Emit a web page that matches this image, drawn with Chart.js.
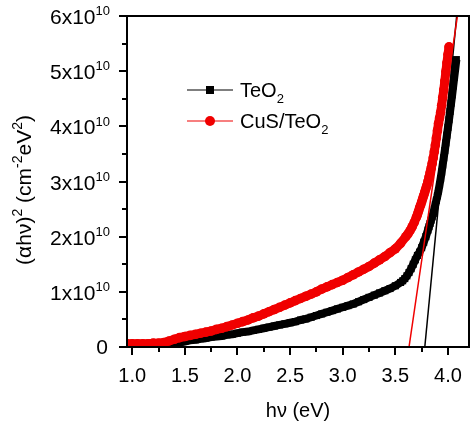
<!DOCTYPE html>
<html>
<head>
<meta charset="utf-8">
<script src="https://cdn.jsdelivr.net/npm/chart.js@4.4.1/dist/chart.umd.min.js"></script>
<style>
  body { margin: 0; background: #fff; }
  canvas { display: block; }
</style>
</head>
<body>
<canvas id="tauc" width="474" height="424"></canvas>
<script>
// values are (alpha h nu)^2 in units of 1e10 cm^-2 eV^2
var teo2Energy = [0.95,1.00,1.05,1.10,1.15,1.20,1.25,1.30,1.35,1.40,1.45,1.50,1.55,1.60,1.65,1.70,1.75,1.80,1.85,1.90,1.95,2.00,2.05,2.10,2.15,2.20,2.25,2.30,2.35,2.40,2.45,2.50,2.55,2.60,2.65,2.70,2.75,2.80,2.85,2.90,2.95,3.00,3.05,3.10,3.15,3.20,3.25,3.30,3.35,3.40,3.45,3.50,3.55,3.57,3.59,3.61,3.63,3.65,3.67,3.69,3.71,3.73,3.75,3.77,3.79,3.81,3.82,3.83,3.84,3.85,3.86,3.87,3.88,3.89,3.90,3.91,3.92,3.93,3.94,3.95,3.96,3.97,3.98,3.99,4.00,4.01,4.02,4.03,4.04,4.05,4.06,4.07,4.08];
var teo2Values = [0.03,0.03,0.03,0.03,0.03,0.03,0.03,0.03,0.04,0.06,0.08,0.10,0.12,0.13,0.15,0.16,0.18,0.19,0.20,0.22,0.23,0.25,0.27,0.28,0.30,0.32,0.34,0.36,0.38,0.40,0.42,0.44,0.46,0.49,0.51,0.54,0.57,0.60,0.63,0.66,0.69,0.72,0.75,0.78,0.82,0.86,0.90,0.94,0.98,1.02,1.06,1.11,1.17,1.20,1.24,1.29,1.35,1.42,1.50,1.58,1.66,1.72,1.80,1.90,2.00,2.12,2.18,2.24,2.30,2.36,2.42,2.50,2.58,2.66,2.74,2.83,2.94,3.05,3.17,3.30,3.43,3.56,3.70,3.84,3.98,4.12,4.27,4.42,4.57,4.73,4.89,5.05,5.21];

var cusEnergy = [0.95,1.00,1.05,1.10,1.15,1.20,1.25,1.30,1.35,1.40,1.45,1.50,1.55,1.60,1.65,1.70,1.75,1.80,1.85,1.90,1.95,2.00,2.05,2.10,2.15,2.20,2.25,2.30,2.35,2.40,2.45,2.50,2.55,2.60,2.65,2.70,2.75,2.80,2.85,2.90,2.95,3.00,3.05,3.10,3.15,3.20,3.25,3.30,3.35,3.40,3.45,3.50,3.55,3.60,3.62,3.64,3.66,3.68,3.70,3.71,3.72,3.73,3.74,3.75,3.76,3.77,3.78,3.79,3.80,3.81,3.82,3.83,3.84,3.85,3.86,3.87,3.88,3.89,3.90,3.91,3.92,3.93,3.94,3.95,3.96,3.97,3.98,3.99,4.00,4.01];
var cusValues = [0.06,0.06,0.06,0.06,0.06,0.07,0.07,0.08,0.11,0.14,0.17,0.19,0.21,0.23,0.25,0.27,0.29,0.32,0.34,0.37,0.40,0.43,0.46,0.49,0.53,0.56,0.60,0.64,0.68,0.72,0.76,0.80,0.84,0.88,0.92,0.96,1.00,1.05,1.09,1.13,1.17,1.21,1.26,1.31,1.36,1.41,1.46,1.52,1.58,1.64,1.71,1.78,1.88,2.00,2.05,2.11,2.18,2.26,2.35,2.40,2.46,2.52,2.57,2.63,2.69,2.75,2.81,2.87,2.93,3.00,3.08,3.16,3.24,3.33,3.43,3.54,3.66,3.79,3.92,4.05,4.15,4.25,4.38,4.52,4.66,4.82,4.99,5.15,5.30,5.44];

// linear fits (band gap extrapolation)
var teo2FitEnergy = [3.78, 4.083];
var teo2FitValues = [0, 6];
var cusFitEnergy = [3.63, 4.09];
var cusFitValues = [0, 6];

var xTicks = [1.0, 1.5, 2.0, 2.5, 3.0, 3.5, 4.0];
var xTickLabels = ["1.0", "1.5", "2.0", "2.5", "3.0", "3.5", "4.0"];
var yTicks = [0, 1, 2, 3, 4, 5, 6];
var yTickLabels = ["0", "1x10", "2x10", "3x10", "4x10", "5x10", "6x10"];

var RED = '#f00000';

function pts(xs, ys){
  var out = [];
  for (var i = 0; i < xs.length; i++) out.push({x: xs[i], y: ys[i]});
  return out;
}

var FONT = "'Liberation Sans', Arial, sans-serif";

// parts: [text, kind] where kind is 'n', 'sup' or 'sub'
function richWidth(ctx, parts, big, small){
  var w = 0;
  parts.forEach(function(p){
    ctx.font = (p[1] === 'n' ? big : small) + "px " + FONT;
    w += ctx.measureText(p[0]).width;
  });
  return w;
}
function richText(ctx, parts, x, y, align, big, small){
  var w = richWidth(ctx, parts, big, small);
  var cx = align === 'right' ? x - w : (align === 'center' ? x - w / 2 : x);
  ctx.textAlign = 'left';
  ctx.textBaseline = 'alphabetic';
  parts.forEach(function(p){
    var dy = 0;
    if (p[1] === 'sup') dy = -big * 0.42;
    if (p[1] === 'sub') dy = big * 0.3;
    ctx.font = (p[1] === 'n' ? big : small) + "px " + FONT;
    ctx.fillText(p[0], cx, y + dy);
    cx += ctx.measureText(p[0]).width;
  });
}

var decor = {
  id: 'decor',
  afterDraw: function(chart){
    var ctx = chart.ctx, a = chart.chartArea;
    var xs = chart.scales.x, ys = chart.scales.y;
    ctx.save();
    ctx.fillStyle = '#000';
    ctx.strokeStyle = '#000';

    // frame
    ctx.lineWidth = 2;
    ctx.strokeRect(a.left, a.top, a.right - a.left, a.bottom - a.top);

    // x ticks
    for (var v = 1.0; v <= 4.2001; v += 0.25){
      var px = Math.round(xs.getPixelForValue(v));
      var major = Math.abs(v * 2 - Math.round(v * 2)) < 1e-6;
      ctx.beginPath();
      ctx.moveTo(px, a.bottom);
      ctx.lineTo(px, a.bottom + (major ? 8 : 5));
      ctx.stroke();
    }
    xTicks.forEach(function(t, i){
      richText(ctx, [[xTickLabels[i], 'n']], xs.getPixelForValue(t), a.bottom + 35, 'center', 20, 13);
    });

    // y ticks
    for (var w = 0; w <= 6.0001; w += 0.5){
      var py = Math.round(ys.getPixelForValue(w));
      var maj = Math.abs(w - Math.round(w)) < 1e-6;
      ctx.beginPath();
      ctx.moveTo(a.left, py);
      ctx.lineTo(a.left - (maj ? 8 : 5), py);
      ctx.stroke();
    }
    yTicks.forEach(function(t, i){
      var py = ys.getPixelForValue(t) + 7;
      if (t === 0) richText(ctx, [[yTickLabels[i], 'n']], a.left - 19, py, 'right', 21, 13);
      else richText(ctx, [[yTickLabels[i], 'n'], ['10', 'sup']], a.left - 17, py + 1, 'right', 21, 13);
    });

    // axis titles
    richText(ctx, [['h\u03bd (eV)', 'n']], (a.left + a.right) / 2, 417, 'center', 20, 13);
    ctx.save();
    ctx.translate(31, 190);
    ctx.rotate(-Math.PI / 2);
    richText(ctx, [['(\u03b1h\u03bd)', 'n'], ['2', 'sup'], [' (cm', 'n'], ['-2', 'sup'], ['eV', 'n'], ['2', 'sup'], [')', 'n']], 0, 0, 'center', 21, 14);
    ctx.restore();

    // legend
    var rows = [
      {y: 90, color: '#000', shape: 'rect', parts: [['TeO', 'n'], ['2', 'sub']]},
      {y: 121, color: RED, shape: 'circle', parts: [['CuS/TeO', 'n'], ['2', 'sub']]}
    ];
    rows.forEach(function(r){
      ctx.strokeStyle = r.color;
      ctx.fillStyle = r.color;
      ctx.lineWidth = 1.2;
      ctx.beginPath();
      ctx.moveTo(187, r.y); ctx.lineTo(233, r.y);
      ctx.stroke();
      if (r.shape === 'rect') ctx.fillRect(206, r.y - 4, 8, 8);
      else { ctx.beginPath(); ctx.arc(210, r.y, 5, 0, Math.PI * 2); ctx.fill(); }
      ctx.fillStyle = '#000';
      richText(ctx, r.parts, 240, r.y + 7, 'left', 20, 13);
    });
    ctx.restore();
  }
};

new Chart(document.getElementById('tauc').getContext('2d'), {
  type: 'scatter',
  data: {
    datasets: [
      {label: 'CuS/TeO2 fit', data: pts(cusFitEnergy, cusFitValues), showLine: true,
       borderColor: RED, borderWidth: 1.5, pointRadius: 0, clip: 0},
      {label: 'TeO2 fit', data: pts(teo2FitEnergy, teo2FitValues), showLine: true,
       borderColor: '#000', borderWidth: 1.5, pointRadius: 0, clip: 0},
      {label: 'CuS/TeO2', data: pts(cusEnergy, cusValues), showLine: true,
       borderColor: RED, backgroundColor: RED, borderWidth: 9, borderCapStyle: 'round', borderJoinStyle: 'round',
       pointStyle: 'circle', pointRadius: 4.8, pointBorderWidth: 0},
      {label: 'TeO2', data: pts(teo2Energy, teo2Values), showLine: true,
       borderColor: '#000', backgroundColor: '#000', borderWidth: 8, borderJoinStyle: 'round',
       pointStyle: 'rect', pointRadius: 5, pointBorderWidth: 0}
    ]
  },
  options: {
    responsive: false,
    animation: false,
    layout: {padding: {left: 127, top: 16, right: 5, bottom: 77}},
    scales: {
      x: {type: 'linear', min: 0.95, max: 4.2, display: false},
      y: {type: 'linear', min: 0, max: 6, display: false}
    },
    plugins: {legend: {display: false}, tooltip: {enabled: false}}
  },
  plugins: [decor]
});
</script>
</body>
</html>
